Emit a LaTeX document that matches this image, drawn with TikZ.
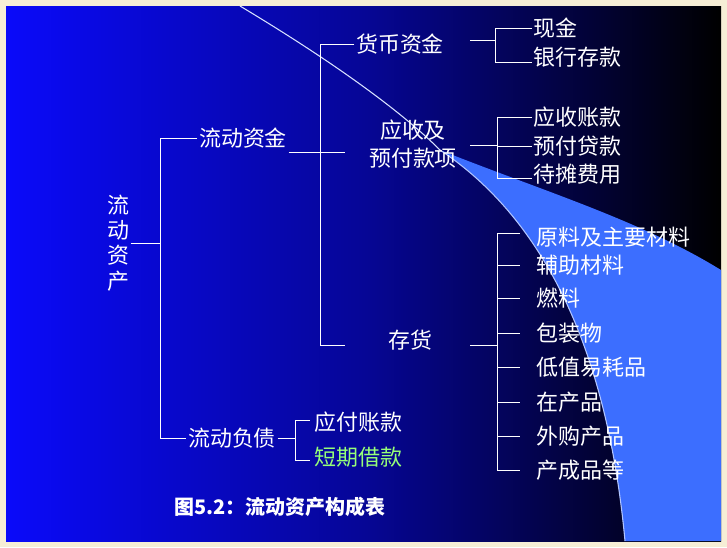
\documentclass[tikz,border=0pt]{standalone}
\usepackage{fontspec}
\newfontfamily\cjk{Noto Sans CJK SC}
\usetikzlibrary{positioning}
\definecolor{frame}{RGB}{246,238,214}
\definecolor{slideblue}{RGB}{10,10,250}
\definecolor{swoosh}{RGB}{60,110,255}
\definecolor{loangreen}{RGB}{150,255,120}
\tikzset{
  lbl/.style={text=white, font=\cjk\fontsize{16.5}{19}\selectfont, inner sep=1pt},
  bracket/.style={white, line width=0.6pt}
}
\begin{document}
\begin{tikzpicture}[x=0.0264cm, y=-0.0264cm]
  \useasboundingbox (0,0) rectangle (727,547);
  \fill[frame] (0,0) rectangle (727,547);
  \shade[left color=slideblue, right color=black, middle color=slideblue!60!black, shading angle=90] (6,6) rectangle (721,541);
  % swoosh
  \fill[swoosh] (440,150) .. controls (560,230) and (610,380) .. (625,541)
     -- (721,541) -- (721,270) .. controls (640,220) and (540,190) .. (440,150) -- cycle;
  \draw[white!80!swoosh, line width=0.8pt] (240,6) .. controls (330,60) and (400,110) .. (440,150);
  \draw[white!60!swoosh, line width=0.8pt] (440,150) .. controls (560,230) and (610,380) .. (625,541);

  % nodes
  \node[lbl, align=center] (zichan) at (118,243) {流\\动\\资\\产};
  \node[lbl] (zijin) at (243,138) {流动资金};
  \node[lbl] (fuzhai) at (232,438) {流动负债};
  \node[lbl] (huobi) at (400,44) {货币资金};
  \node[lbl, align=center] (yingshou) at (413,144) {应收及\\[2pt]预付款项};
  \node[lbl] (cunhuo) at (410,340) {存货};
  \node[lbl, anchor=west] (xianjin) at (532,28) {现金};
  \node[lbl, anchor=west] (cunkuan) at (532,57) {银行存款};
  \node[lbl, anchor=west] (zhangkuan) at (532,117) {应收账款};
  \node[lbl, anchor=west] (daikuan) at (532,146) {预付贷款};
  \node[lbl, anchor=west] (feiyong) at (532,174) {待摊费用};
  \foreach \name/\txt/\y in {yuanliao/原料及主要材料/237, fuzhu/辅助材料/265, ranliao/燃料/298,
      baozhuang/包装物/333, dizhi/低值易耗品/367, zaichan/在产品/402, waigou/外购产品/436, chengpin/产成品等/470}
    \node[lbl, anchor=west] (\name) at (535,\y) {\txt};
  \node[lbl, anchor=west] (yingfu) at (313,422) {应付账款};
  \node[lbl, anchor=west, text=loangreen] (duanqi) at (313,457) {短期借款};
  \node[lbl, font=\cjk\bfseries\fontsize{15}{18}\selectfont] (caption) at (280,507) {图5.2：流动资产构成表};

  % brackets
  \draw[bracket] (zichan.east) -- (160,243);
  \draw[bracket] (zijin.west) -| (160,438) -- (fuzhai.west);
  \draw[bracket] (zijin.east |- 0,152) -- (345,152);
  \draw[bracket] (huobi.west) -| (320,345) -- (345,345);
  \draw[bracket] (470,40) -- (495,40);
  \draw[bracket] (xianjin.west) -| (495,62) -- (cunkuan.west |- 62,62);
  \draw[bracket] (470,145) -- (497,145);
  \draw[bracket] (zhangkuan.west) -| (497,178) -- (feiyong.west |- 497,178);
  \draw[bracket] (497,146) -- (daikuan.west);
  \draw[bracket] (470,345) -- (497,345);
  \draw[bracket] (520,233) -| (497,470) -- (520,470);
  \foreach \name in {fuzhu, ranliao, baozhuang, dizhi, zaichan, waigou}
    \draw[bracket] (497,0 |- \name.west) -- (520,0 |- \name.west);
  \draw[bracket] (fuzhai.east) -- (295,438);
  \draw[bracket] (310,420) -| (295,460) -- (310,460);
\end{tikzpicture}
\end{document}
